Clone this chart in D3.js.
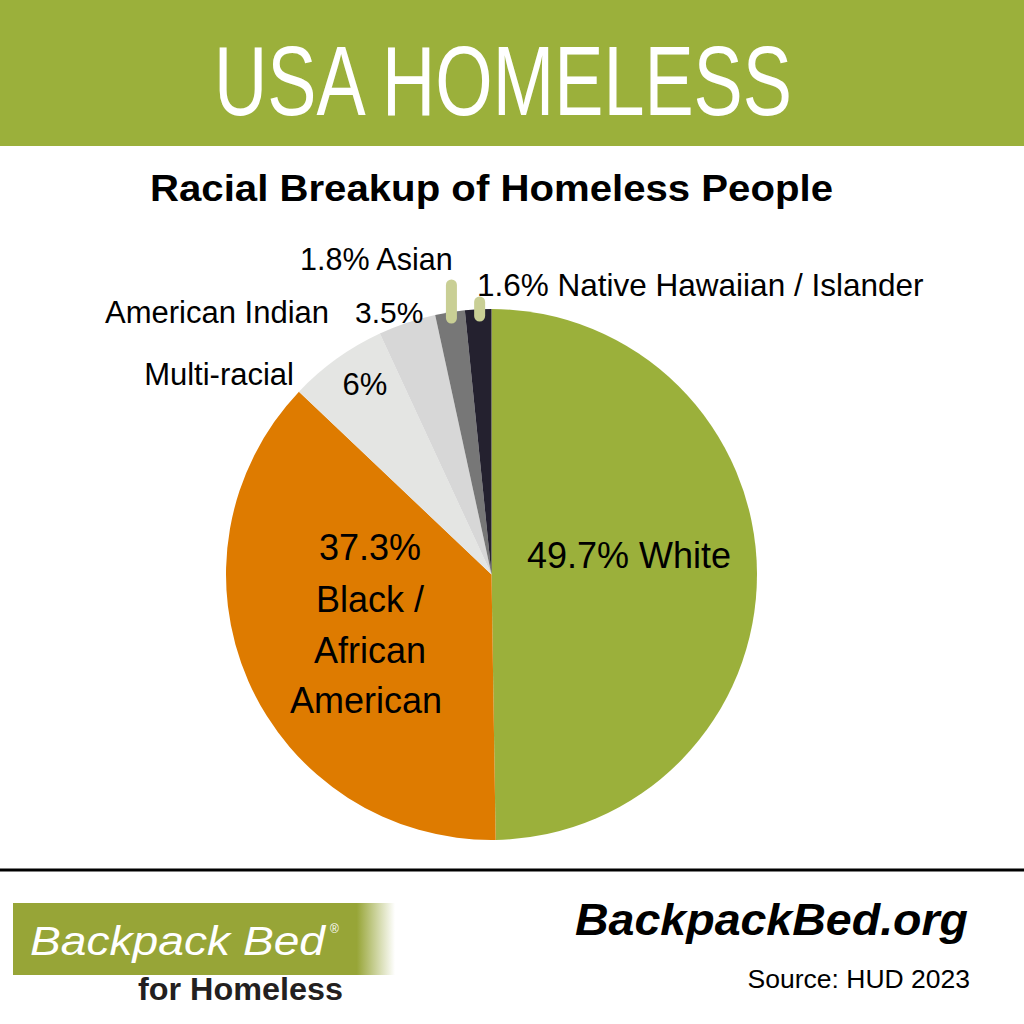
<!DOCTYPE html>
<html>
<head>
<meta charset="utf-8">
<script src="https://cdn.jsdelivr.net/npm/d3@7"></script>
<style>
  html, body { margin: 0; padding: 0; background: #fff; }
  svg { display: block; }
  text { font-family: "Liberation Sans", Arial, Helvetica, sans-serif; }
</style>
</head>
<body>
<svg id="chart" width="1024" height="1024"></svg>
<script>
// ---- Data ----
const categories = ["White", "Black / African American", "Multi-racial", "American Indian", "Asian", "Native Hawaiian / Islander"];
const values = [49.7, 37.3, 6, 3.5, 1.8, 1.6];
const sliceColors = ["#9BB03B", "#DE7B00", "#E4E5E3", "#D7D7D7", "#777777", "#24212F"];
const titleText = "USA HOMELESS";
const subtitleText = "Racial Breakup of Homeless People";
const sourceText = "Source: HUD 2023";

// ---- Layout ----
const W = 1024, H = 1024;
const cx = 491.5, cy = 574.5, R = 265.5;
const svg = d3.select("#chart");

// Header band
svg.append("rect").attr("x", 0).attr("y", 0).attr("width", W).attr("height", 146).attr("fill", "#9BB03B");
svg.append("text")
  .attr("x", 214).attr("y", 115)
  .attr("font-family", "'Liberation Sans Narrow', 'Liberation Sans', Arial, sans-serif")
  .attr("font-size", 99)
  .attr("textLength", 578).attr("lengthAdjust", "spacingAndGlyphs")
  .attr("fill", "#fff")
  .text(titleText);

// Subtitle
svg.append("text")
  .attr("x", 150).attr("y", 201)
  .attr("font-size", 36).attr("font-weight", "bold")
  .attr("textLength", 683).attr("lengthAdjust", "spacingAndGlyphs")
  .attr("fill", "#000")
  .text(subtitleText);

// Pie
const data = categories.map((c, i) => ({ cat: c, value: values[i], color: sliceColors[i] }));
const pie = d3.pie().sort(null).value(d => d.value);
const arcs = pie(data);
const arc = d3.arc().innerRadius(0).outerRadius(R);
const g = svg.append("g").attr("transform", `translate(${cx},${cy})`);
g.selectAll("path").data(arcs).join("path")
  .attr("d", arc)
  .attr("fill", d => d.data.color);

// Labels
const fmt = v => `${v}%`;
function label(x, y, txt, size, anchor) {
  svg.append("text").attr("x", x).attr("y", y)
    .attr("font-size", size).attr("text-anchor", anchor || "middle")
    .attr("fill", "#000").text(txt);
}
label(629, 568, `${fmt(values[0])} ${categories[0]}`, 36);
label(370, 560, fmt(values[1]), 36);
label(370, 612, "Black /", 36);
label(370, 663, "African", 36);
label(366, 713, "American", 36);
label(365, 395, fmt(values[2]), 31);
label(294, 385, categories[2], 31, "end");
label(105, 323, categories[3], 31, "start");
label(355, 323, fmt(values[3]), 30, "start");
label(300, 270, `${fmt(values[4])} ${categories[4]}`, 30.5, "start");
label(477, 296, `${fmt(values[5])} Native Hawaiian / Islander`, 31.5, "start");

// Leader markers for the thin slices (at each slice's mid-angle)
const markerSpans = { 4: [280, 323], 5: [297, 321] };
Object.keys(markerSpans).forEach(k => {
  const a = arcs[+k];
  const mid = (a.startAngle + a.endAngle) / 2;
  const x = cx + R * Math.sin(mid) + 1.5;
  const [y0, y1] = markerSpans[k];
  svg.append("line")
    .attr("x1", x).attr("x2", x).attr("y1", y0 + 5).attr("y2", y1 - 5)
    .attr("stroke", "#C9CF95").attr("stroke-width", 11).attr("stroke-linecap", "round");
});

// Divider
svg.append("line").attr("x1", 0).attr("x2", W).attr("y1", 870).attr("y2", 870)
  .attr("stroke", "#000").attr("stroke-width", 3);

// Logo block
const defs = svg.append("defs");
const grad = defs.append("linearGradient").attr("id", "logoGrad").attr("x1", "0").attr("x2", "1").attr("y1", "0").attr("y2", "0");
grad.append("stop").attr("offset", "0").attr("stop-color", "#97A537");
grad.append("stop").attr("offset", "0.9").attr("stop-color", "#97A537");
grad.append("stop").attr("offset", "1").attr("stop-color", "#97A537").attr("stop-opacity", 0);
svg.append("rect").attr("x", 13).attr("y", 903).attr("width", 382).attr("height", 72).attr("fill", "url(#logoGrad)");
svg.append("text").attr("x", 30).attr("y", 955)
  .attr("font-size", 41).attr("font-style", "italic")
  .attr("textLength", 295).attr("lengthAdjust", "spacingAndGlyphs")
  .attr("fill", "#fff").text("Backpack Bed");
svg.append("text").attr("x", 330).attr("y", 933)
  .attr("font-size", 12).attr("fill", "#fff").text("®");
svg.append("text").attr("x", 138).attr("y", 1000)
  .attr("font-size", 31).attr("font-weight", "bold")
  .attr("textLength", 205).attr("lengthAdjust", "spacingAndGlyphs")
  .attr("fill", "#231F20").text("for Homeless");

// Website + source
svg.append("text").attr("x", 575).attr("y", 935)
  .attr("font-size", 45).attr("font-style", "italic").attr("font-weight", "bold")
  .attr("textLength", 393).attr("lengthAdjust", "spacingAndGlyphs")
  .attr("fill", "#000").text("BackpackBed.org");
svg.append("text").attr("x", 970).attr("y", 988)
  .attr("font-size", 26.5).attr("text-anchor", "end")
  .attr("fill", "#000").text(sourceText);
</script>
</body>
</html>
